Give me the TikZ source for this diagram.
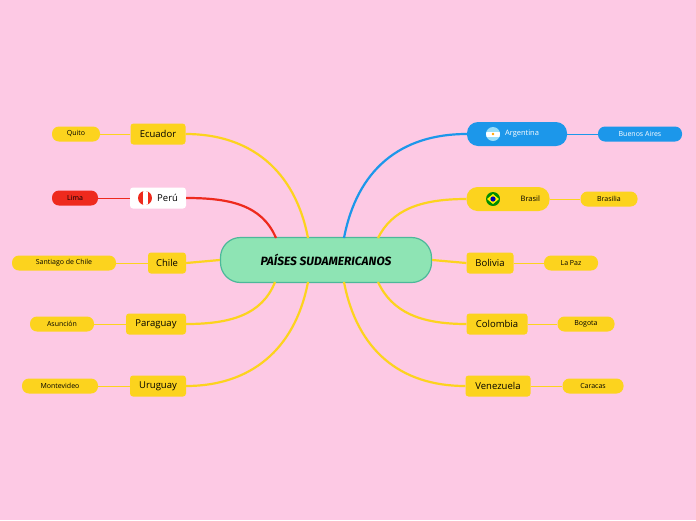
\documentclass[tikz,border=0pt]{standalone}
\usepackage{fontspec}
\setmainfont{Open Sans}
\newfontfamily\titlefont{Fira Sans}
\begin{document}
\begin{tikzpicture}[x=1pt,y=-1pt,
 main/.style={draw=none,fill=mainy,rounded corners=3pt,minimum height=21pt,font=\fontsize{9.5}{11}\selectfont,inner xsep=6pt,drop shadow/.style={}},
 sub/.style={fill=mainy,rounded corners=7pt,minimum height=15pt,font=\fontsize{7}{8}\selectfont,inner xsep=9pt},
 pill/.style={rounded corners=11pt,minimum height=24pt,font=\fontsize{7.5}{9}\selectfont},
 yl/.style={draw=liney,line width=2.2pt},
 thin/.style={draw=liney,line width=0.6pt}]
\definecolor{bg}{HTML}{FDC9E4}
\definecolor{mainy}{HTML}{FCD31E}
\definecolor{liney}{HTML}{FCD31E}
\definecolor{cgreen}{HTML}{8EE4B4}
\definecolor{cborder}{HTML}{4CB89A}
\definecolor{ablue}{HTML}{1C97EA}
\definecolor{pred}{HTML}{EE2A1D}
\fill[bg] (0,0) rectangle (696,520);
\useasboundingbox (0,0) rectangle (696,520);
% nodes
\node[fill=cgreen,draw=cborder,line width=1.2pt,rounded corners=20pt,minimum width=211pt,minimum height=45pt,font=\titlefont\bfseries\itshape\fontsize{12}{14}\selectfont] (c) at (326,260) {PAÍSES SUDAMERICANOS};
\node[main,minimum width=55pt] (ec) at (158,134) {Ecuador};
\node[main,fill=white,minimum width=56pt,text width=40pt,align=right] (pe) at (158,198) {Perú};
\node[main,minimum width=38pt] (ch) at (167,263) {Chile};
\node[main,minimum width=60pt] (pa) at (156,324) {Paraguay};
\node[main,minimum width=56pt] (ur) at (158,386) {Uruguay};
\node[sub,minimum width=48pt] (qu) at (76,134) {Quito};
\node[sub,fill=pred,minimum width=46pt] (li) at (75,198) {Lima};
\node[sub,minimum width=104pt] (sa) at (64,263) {Santiago de Chile};
\node[sub,minimum width=64pt] (as) at (62,324) {Asunción};
\node[sub,minimum width=76pt] (mo) at (60,386) {Montevideo};
\node[pill,fill=ablue,text=white,minimum width=100pt,text width=80pt,align=right] (ar) at (517,134) {Argentina\hspace*{18pt}};
\node[pill,fill=mainy,minimum width=83pt,text width=64pt,align=right] (br) at (508,199) {Brasil\hspace*{13pt}};
\node[main,minimum width=47pt] (bo) at (490,263) {Bolivia};
\node[main,minimum width=61pt] (co) at (497,324) {Colombia};
\node[main,minimum width=65pt] (ve) at (498,386) {Venezuela};
\node[sub,fill=ablue,text=white,minimum width=84pt] (ba) at (640,134) {Buenos Aires};
\node[sub,minimum width=57pt] (bs) at (609,199) {Brasilia};
\node[sub,minimum width=54pt] (lp) at (571,263) {La Paz};
\node[sub,minimum width=57pt] (bg) at (586,324) {Bogota};
\node[sub,minimum width=61pt] (cr) at (593,386) {Caracas};
% flags
\begin{scope}
\clip (145,198) circle (7);
\fill[pred] (138,191) rectangle (152,205);
\fill[white] (142.5,191) rectangle (147.5,205);
\end{scope}
\begin{scope}
\clip (493,134) circle (7);
\fill[cyan!40] (486,127) rectangle (500,141);
\fill[white] (486,131.5) rectangle (500,136.5);
\fill[orange!70!yellow] (493,134) circle (1.3);
\end{scope}
\begin{scope}
\clip (493,199) circle (7);
\fill[green!55!black] (486,192) rectangle (500,206);
\fill[yellow] (487,199) -- (493,194) -- (499,199) -- (493,204) -- cycle;
\fill[blue!70!black] (493,199) circle (2.6);
\end{scope}
% connectors
\draw[yl] (308,238) .. controls (295,170) and (250,134) .. (ec.east);
\draw[draw=pred,line width=2.2pt] (276,238) .. controls (262,205) and (230,198) .. (pe.east);
\draw[yl] (c.west) -- (ch.east);
\draw[yl] (275,282) .. controls (262,315) and (230,324) .. (pa.east);
\draw[yl] (308,282) .. controls (295,350) and (250,386) .. (ur.east);
\draw[draw=ablue,line width=2.2pt] (344,238) .. controls (357,170) and (400,134) .. (ar.west);
\draw[yl] (378,238) .. controls (392,210) and (420,199) .. (br.west);
\draw[yl] (c.east) -- (bo.west);
\draw[yl] (378,282) .. controls (392,312) and (420,324) .. (co.west);
\draw[yl] (344,282) .. controls (357,350) and (400,386) .. (ve.west);
\draw[thin] (ec) -- (qu); \draw[draw=pred,line width=0.6pt] (pe) -- (li);
\draw[thin] (ch) -- (sa); \draw[thin] (pa) -- (as); \draw[thin] (ur) -- (mo);
\draw[draw=ablue,line width=0.6pt] (ar) -- (ba);
\draw[thin] (br) -- (bs); \draw[thin] (bo) -- (lp); \draw[thin] (co) -- (bg); \draw[thin] (ve) -- (cr);
\end{tikzpicture}
\end{document}
